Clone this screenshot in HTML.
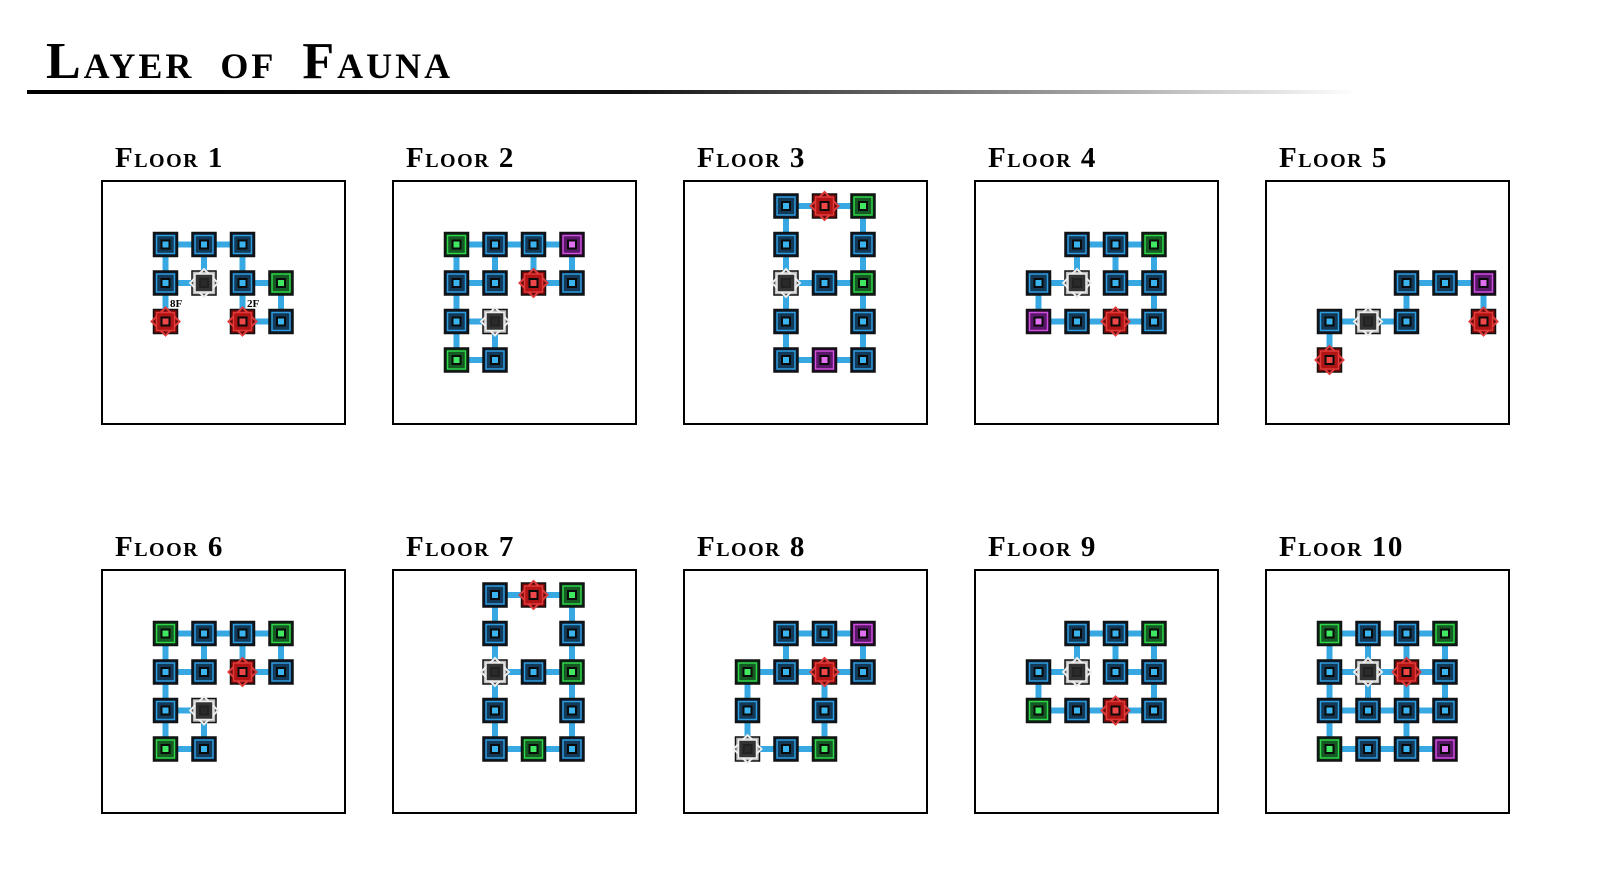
<!DOCTYPE html>
<html><head><meta charset="utf-8">
<style>
html,body{margin:0;padding:0;background:#fff;width:1600px;height:890px;overflow:hidden}
svg{display:block}
</style></head>
<body>
<svg id="s" width="1600" height="890" xmlns="http://www.w3.org/2000/svg">
<defs>
<linearGradient id="ul" x1="0" x2="1" y1="0" y2="0">
<stop offset="0" stop-color="#000"/><stop offset="0.45" stop-color="#111"/><stop offset="1" stop-color="#000" stop-opacity="0"/>
</linearGradient>
</defs>
<text x="46" y="78" font-family="Liberation Serif, serif" font-weight="bold" font-size="52" style="font-variant:small-caps" letter-spacing="3" word-spacing="10">Layer of Fauna</text>
<rect x="27" y="90" width="1330" height="4" fill="url(#ul)"/>
<g id="g"></g>
</svg>
<script>
var F=[
{n:"B1,1 B2,1 B3,1 B1,2 W2,2 B3,2 G4,2 R1,3 R3,3 B4,3",h:"1,1 2,1 1,2 3,2 3,3",v:"1,1 1,2 2,1 3,1 3,2 4,2"},
{n:"G1,1 B2,1 B3,1 P4,1 B1,2 B2,2 R3,2 B4,2 B1,3 W2,3 G1,4 B2,4",h:"1,1 2,1 3,1 1,2 3,2 1,3 1,4",v:"1,1 1,2 1,3 2,1 2,3 3,1 4,1"},
{n:"B2,0 R3,0 G4,0 B2,1 B4,1 W2,2 B3,2 G4,2 B2,3 B4,3 B2,4 P3,4 B4,4",h:"2,0 3,0 2,2 3,2 2,4 3,4",v:"2,0 2,1 2,2 2,3 4,0 4,1 4,2 4,3"},
{n:"B2,1 B3,1 G4,1 B1,2 W2,2 B3,2 B4,2 P1,3 B2,3 R3,3 B4,3",h:"2,1 3,1 1,2 3,2 1,3 2,3 3,3",v:"1,2 2,1 3,1 4,1 4,2"},
{n:"B3,2 B4,2 P5,2 B1,3 W2,3 B3,3 R5,3 R1,4",h:"3,2 4,2 1,3 2,3",v:"3,2 1,3 5,2"},
{n:"G1,1 B2,1 B3,1 G4,1 B1,2 B2,2 R3,2 B4,2 B1,3 W2,3 G1,4 B2,4",h:"1,1 2,1 3,1 1,2 3,2 1,3 1,4",v:"1,1 1,2 1,3 2,1 2,3 3,1 4,1"},
{n:"B2,0 R3,0 G4,0 B2,1 B4,1 W2,2 B3,2 G4,2 B2,3 B4,3 B2,4 G3,4 B4,4",h:"2,0 3,0 2,2 3,2 2,4 3,4",v:"2,0 2,1 2,2 2,3 4,0 4,1 4,2 4,3"},
{n:"B2,1 B3,1 P4,1 G1,2 B2,2 R3,2 B4,2 B1,3 B3,3 W1,4 B2,4 G3,4",h:"2,1 3,1 1,2 2,2 3,2 1,4 2,4",v:"2,1 4,1 1,2 1,3 3,2 3,3"},
{n:"B2,1 B3,1 G4,1 B1,2 W2,2 B3,2 B4,2 G1,3 B2,3 R3,3 B4,3",h:"2,1 3,1 1,2 3,2 1,3 2,3 3,3",v:"2,1 3,1 4,1 1,2 4,2"},
{n:"G1,1 B2,1 B3,1 G4,1 B1,2 W2,2 R3,2 B4,2 B1,3 B2,3 B3,3 B4,3 G1,4 B2,4 B3,4 P4,4",h:"1,1 2,1 3,1 1,2 2,2 3,2 1,3 2,3 3,3 1,4 2,4 3,4",v:"1,1 1,2 1,3 2,1 2,2 3,1 3,2 3,3 4,1 4,2"}
];
var BX=[101,392,683,974,1265],BY=[180,569];
var C={B:["#0b1828","#2f9ee0","#123a58","#3ab4ef"],G:["#0c2412","#2fd64a","#145a22","#3fe860"],P:["#23082a","#d050e0","#5a1668","#e070f0"],R:["#7a0808","#e03a3a","#b01414","#f04848"],W:["#bbbbbb","#eeeeee","#333333","#2a2a2a"]};
var s="";
F.forEach(function(f,i){
 var bx=BX[i%5],by=BY[Math.floor(i/5)];
 s+='<text x="'+(bx+14)+'" y="'+(by-13)+'" font-family="Liberation Serif, serif" font-weight="bold" font-size="29" style="font-variant:small-caps" letter-spacing="1.5">Floor '+(i+1)+'</text>';
 s+='<rect x="'+(bx+1)+'" y="'+(by+1)+'" width="243" height="243" fill="#fff" stroke="#000" stroke-width="2"/>';
 function P(k){return 26+38.5*k}
 f.h.split(" ").forEach(function(e){var a=e.split(",");var x=bx+P(+a[0]),y=by+P(+a[1]);s+='<line x1="'+x+'" y1="'+y+'" x2="'+(x+38.5)+'" y2="'+y+'" stroke="#37a8e2" stroke-width="6"/>';});
 f.v.split(" ").forEach(function(e){var a=e.split(",");var x=bx+P(+a[0]),y=by+P(+a[1]);s+='<line x1="'+x+'" y1="'+y+'" x2="'+x+'" y2="'+(y+38.5)+'" stroke="#37a8e2" stroke-width="6"/>';});
 f.n.split(" ").forEach(function(e){var t=e[0],a=e.slice(1).split(",");var cx=bx+P(+a[0]),cy=by+P(+a[1]);var c=C[t];
  s+='<rect x="'+(cx-12)+'" y="'+(cy-12)+'" width="24" height="24" fill="'+c[0]+'" stroke="#111" stroke-width="1.5"/>';
  if(t=="R"||t=="W"){s+='<polygon points="'+cx+','+(cy-14)+' '+(cx+14)+','+cy+' '+cx+','+(cy+14)+' '+(cx-14)+','+cy+'" fill="none" stroke="'+c[1]+'" stroke-width="2"/>';}
  s+='<rect x="'+(cx-9)+'" y="'+(cy-9)+'" width="18" height="18" fill="'+c[2]+'" stroke="'+c[1]+'" stroke-width="1.5"/>';
  s+='<rect x="'+(cx-5)+'" y="'+(cy-5)+'" width="10" height="10" fill="'+(t=="W"?"#222":"#0a0a0a")+'"/>';
  s+='<rect x="'+(cx-3)+'" y="'+(cy-3)+'" width="6" height="6" fill="'+c[3]+'"/>';
 });
 if(i==0){s+='<text x="170" y="307" font-family="Liberation Serif, serif" font-weight="bold" font-size="11">8F</text><text x="247" y="307" font-family="Liberation Serif, serif" font-weight="bold" font-size="11">2F</text>';}
});
document.getElementById("g").innerHTML=s;
</script>
</body></html>
